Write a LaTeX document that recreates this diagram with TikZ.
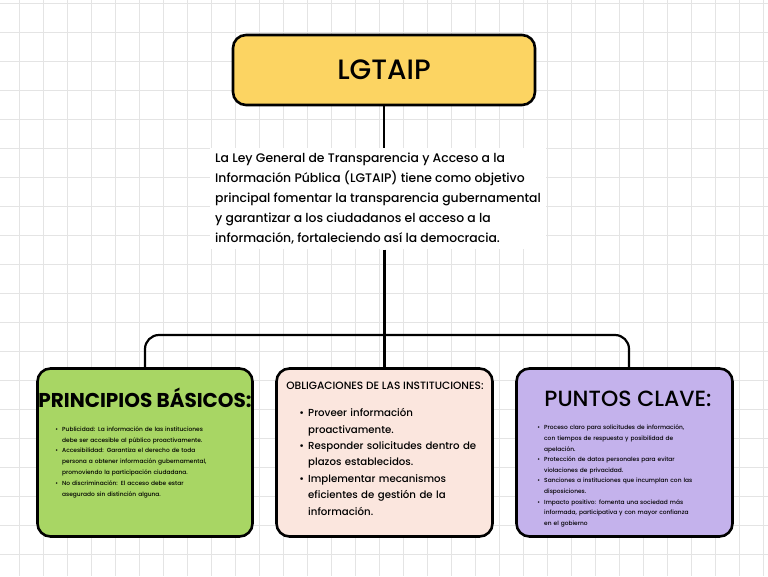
\documentclass[tikz,border=0pt]{standalone}
\usepackage{fontspec}
\setmainfont{Poppins}[UprightFont={* Medium}, BoldFont={* Bold}]
\usepackage{enumitem}
\usepackage{tikz}
\usetikzlibrary{positioning}

\definecolor{lgyellow}{HTML}{FCD462}
\definecolor{lggreen}{HTML}{A8D664}
\definecolor{lgpink}{HTML}{FBE6DE}
\definecolor{lgpurple}{HTML}{C4B2EC}
\definecolor{lggrid}{HTML}{E4E4E4}

\tikzset{
  box/.style={draw=black, line width=2.6pt, rounded corners=13pt, inner sep=0pt},
  link/.style={draw=black, line width=2.2pt},
  gridline/.style={draw=lggrid, line width=0.7pt},
  itemlist/.style={anchor=north west, inner sep=0pt, align=left}
}

\newcommand{\lglist}[2]{%
  \begin{itemize}[leftmargin=#1, labelsep=4pt, itemsep=0pt, topsep=0pt, parsep=0pt, partopsep=0pt, label=\textbullet]
  #2
  \end{itemize}}

\begin{document}
\begin{tikzpicture}[x=1pt, y=-1pt]
  \useasboundingbox[fill=white] (0,0) rectangle (768,576);
  % grid paper
  \foreach \gx in {19,43,...,768} \draw[gridline] (\gx,0) -- (\gx,576);
  \foreach \gy in {3,32,...,576} \draw[gridline] (0,\gy) -- (768,\gy);

  \node[box, fill=lgyellow, minimum width=302pt, minimum height=70pt] (top) at (384,70) {};
  \node[anchor=base, font=\fontsize{28}{32}\selectfont] (title) at (384,79) {LGTAIP};

  \node[anchor=north west, fill=white, inner sep=5pt, align=left, font=\fontsize{12.4}{20}\selectfont] (desc) at (210,148)
    {La Ley General de Transparencia y Acceso a la\\
     Información Pública (LGTAIP) tiene como objetivo\\
     principal fomentar la transparencia gubernamental\\
     y garantizar a los ciudadanos el acceso a la\\
     información, fortaleciendo así la democracia.};

  \node[box, fill=lggreen, minimum width=215pt, minimum height=168pt] (left) at (145,452.5) {};
  \node[box, fill=lgpink, minimum width=216pt, minimum height=168pt] (mid) at (384.5,452.5) {};
  \node[box, fill=lgpurple, minimum width=216pt, minimum height=168pt] (right) at (624.5,452.5) {};

  \coordinate (hub) at (384,335);
  \draw[link] (top.south) -- (top.south |- desc.north);
  \draw[link] (mid.north |- desc.south) -- (mid.north);
  \draw[link, rounded corners=14pt] (hub) -| (left.north);
  \draw[link, rounded corners=14pt] (hub) -| ([xshift=4.5pt]right.north);

  % green box
  \node[anchor=base, font=\fontsize{20}{24}\bfseries] (lhead) at (145,407) {PRINCIPIOS BÁSICOS:};
  \node[itemlist, text width=185pt, font=\fontsize{5.9}{10.9}\selectfont] (llist) at (52,420)
    {\lglist{10pt}{
      \item Publicidad: La información de las instituciones\\ debe ser accesible al público proactivamente.
      \item Accesibilidad: Garantiza el derecho de toda\\ persona a obtener información gubernamental,\\ promoviendo la participación ciudadana.
      \item No discriminación: El acceso debe estar\\ asegurado sin distinción alguna.}};

  % pink box
  \node[anchor=base, font=\fontsize{10.6}{12}\selectfont] (mhead) at (385,389) {OBLIGACIONES DE LAS INSTITUCIONES:};
  \node[itemlist, text width=185pt, font=\fontsize{10.2}{16.4}\selectfont] (mlist) at (298,400)
    {\lglist{10pt}{
      \item Proveer información\\ proactivamente.
      \item Responder solicitudes dentro de\\ plazos establecidos.
      \item Implementar mecanismos\\ eficientes de gestión de la\\ información.}};

  % purple box
  \node[anchor=base, font=\fontsize{22}{26}\selectfont] (rhead) at (628,406) {PUNTOS CLAVE:};
  \node[itemlist, text width=190pt, font=\fontsize{5.9}{10.6}\selectfont] (rlist) at (534,419)
    {\lglist{10pt}{
      \item Proceso claro para solicitudes de información,\\ con tiempos de respuesta y posibilidad de\\ apelación.
      \item Protección de datos personales para evitar\\ violaciones de privacidad.
      \item Sanciones a instituciones que incumplan con las\\ disposiciones.
      \item Impacto positivo: fomenta una sociedad más\\ informada, participativa y con mayor confianza\\ en el gobierno}};
\end{tikzpicture}
\end{document}
